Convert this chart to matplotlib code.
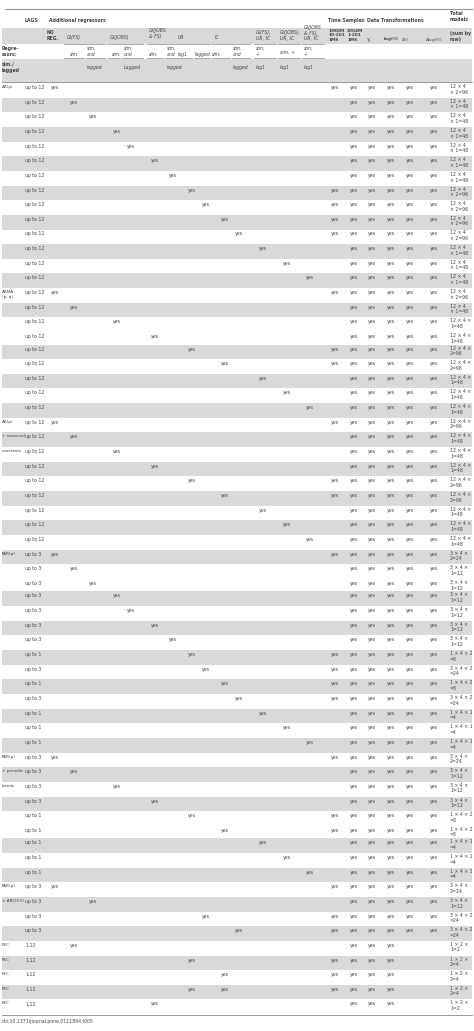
import matplotlib

matplotlib.use("Agg")
import matplotlib.pyplot as plt

# ---- data ----
model_labels = ["AR(p)"] + [""] * 13 + ["ARMA\n(p, q)"] + [""] * 8 + \
    ["AR(p)", "+ seasonal", "constants"] + [""] * 6 + \
    ["PAR(p)"] + [""] * 13 + ["PAR(p)", "+ periodic", "trends"] + [""] * 6 + \
    ["PAR(p)", "+ ARCH(1)", "", ""] + ["PEC"] * 5

lag_labels = ["up to 12"] * 32 + \
    ["up to 3"] * 7 + ["up to 1", "up to 3", "up to 1", "up to 3", "up to 1", "up to 1", "up to 1"] + \
    ["up to 3"] * 4 + ["up to 1"] * 5 + \
    ["up to 3"] * 4 + ["1,12"] * 5
lag_counts = [12] * 32 + [3] * 7 + [1, 3, 1, 3, 1, 1, 1] + [3] * 4 + [1] * 5 + [3] * 4 + [1] * 5

regressors = [[c] for c in range(14)] + \
    [[c] for c in [0, 1, 3, 5, 7, 9, 11, 12, 13]] + \
    [[c] for c in [0, 1, 3, 5, 7, 9, 11, 12, 13]] + \
    [[c] for c in range(14)] + \
    [[c] for c in [0, 1, 3, 5, 7, 9, 11, 12, 13]] + \
    [[c] for c in [0, 2, 8, 10]] + \
    [[1], [7], [9], [7, 9], [5]]
trans_counts = [4] * 59 + [2] * 5
compact_rows = {17, 34, 51}

# ---- layout (pixels) ----
W, H = 474, 1031
reg_x = [52, 71, 90, 114, 128, 152, 170, 189, 203, 222, 236, 260, 284, 307]
ts_x = [331, 350]
trans_x = [368, 387, 406, 430]
tot_x = 450
gray = "#d9d9d9"
txt = "#444444"
fs = 3.3

fig = plt.figure(figsize=(W / 100, H / 100), dpi=100)
ax = fig.add_axes([0, 0, 1, 1])
ax.set_xlim(0, W)
ax.set_ylim(H, 0)
ax.axis("off")


def t(x, y, s, bold=False, italic=False, size=fs):
    ax.text(x, y, s, fontsize=size, color=txt, va="top", ha="left",
            fontweight="bold" if bold else "normal",
            fontstyle="italic" if italic else "normal", linespacing=1.15)


# header
ax.axhline(9, 0.01, 0.995, color="#999999", lw=0.8)
ax.add_patch(plt.Rectangle((2, 28), W - 4, 16, color=gray, lw=0))
ax.add_patch(plt.Rectangle((2, 59), W - 4, 23, color=gray, lw=0))
t(25, 18, "LAGS", bold=True)
t(49, 18, "Additional regressors", bold=True)
t(328, 18, "Time Samples", bold=True)
t(367, 18, "Data Transformations", bold=True)
t(450, 11, "Total\nmodels", bold=True)
t(47, 30, "NO\nREG.", bold=True)
for x, s in [(67, "GI(FS)"), (110, "GI(JOBS)"), (178, "UR"), (215, "IC")]:
    t(x, 35, s, italic=True)
t(149, 28, "GI(JOBS\n& FS)", italic=True)
t(256, 30, "GI(FS),\nUR, IC", italic=True)
t(280, 30, "GI(JOBS),\nUR, IC", italic=True)
t(304, 25, "GI(JOBS\n& FS),\nUR, IC", italic=True)
t(328, 29, "1988M\n10-201\n1MS", bold=True, size=3.1)
t(347, 29, "2004M\n1-201\n1MS", bold=True, size=3.1)
t(366, 36, "$Y_t$", italic=True)
t(383, 35, "log($Y_t$)", bold=True, size=3.0)
t(401, 36, "$\\Delta Y_t$", italic=True, size=3.0)
t(425, 36, "$\\Delta\\log(Y_t)$", italic=True, size=3.0)
t(450, 31, "(sum by\nrow)", bold=True)
for x0, x1 in [(64, 105), (108, 143), (147, 175), (176, 210), (212, 250), (254, 276), (278, 300), (302, 324)]:
    ax.plot([x0, x1], [44, 44], color="#888888", lw=0.5)
t(2, 46, "Regre-\nssors:", bold=True)
t(2, 62, "sim./\nlagged", bold=True)
for x in [70, 112, 149, 212]:
    t(x, 52, "sim.", italic=True)
for x in [87, 124, 167, 233]:
    t(x, 46, "sim.\nand", italic=True)
t(178, 52, "lag1", italic=True)
t(195, 52, "lagged", italic=True)
t(256, 46, "sim.\n+", italic=True)
t(280, 50, "sim. +", italic=True)
t(304, 46, "sim.\n+", italic=True)
for x, s in [(87, "lagged"), (124, "Lagged"), (167, "lagged"), (233, "lagged"),
             (256, "lag1"), (280, "lag1"), (304, "lag1")]:
    t(x, 65, s, italic=True)
for x0, x1 in [(64, 84), (86, 105), (108, 120), (122, 143), (147, 163), (165, 175),
               (176, 192), (194, 210), (212, 230), (232, 250), (254, 276), (278, 300), (302, 324)]:
    ax.plot([x0, x1], [58, 58], color="#888888", lw=0.5)
ax.axhline(82, 0.005, 0.995, color="#888888", lw=0.6)

# body
y = 83
shade = False
for i, cols in enumerate(regressors):
    h = 12.5 if i in compact_rows else 14.65
    if i > 0 and i not in compact_rows:
        shade = not shade
    if shade:
        ax.add_patch(plt.Rectangle((2, y), W - 4, h, color=gray, lw=0))
    t(2, y + 2, model_labels[i], size=3.0)
    t(25, y + 2, lag_labels[i])
    for c in cols:
        t(reg_x[c] - 1, y + 2, "yes")
    both = any(c in (0, 7, 8, 9, 10) for c in cols)
    n_ts = 2 if both else 1
    for k, x in enumerate(ts_x):
        if both or k == 1:
            t(x, y + 2, "yes")
    for x in trans_x[:trans_counts[i]]:
        t(x, y + 2, "yes")
    a, b = lag_counts[i], trans_counts[i]
    tot = a * b * n_ts
    if i < 16:
        s = f"{a} × {b}\n× {n_ts}={tot}"
    elif a == 1 and b == 4 or (a == 3 and n_ts == 2 and cols[0] != 0):
        s = f"{a} × {b} × {n_ts}\n={tot}"
    else:
        s = f"{a} × {b} ×\n{n_ts}={tot}"
    t(tot_x, y + 1, s)
    y += h

ax.axhline(y + 1, 0.005, 0.995, color="#888888", lw=0.6)
t(2, y + 5, "doi:10.1371/journal.pone.0111894.t005", size=3.3)

fig.savefig("out.png", dpi=100)
